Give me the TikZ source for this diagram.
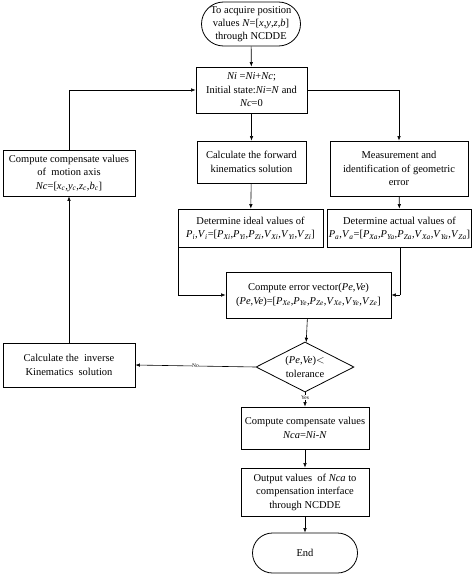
\documentclass[tikz,border=0pt]{standalone}
\usepackage{fontspec}
\setmainfont{Liberation Serif}
\usetikzlibrary{arrows.meta,shapes.geometric,shapes.misc}
\newcommand{\iv}[1]{\textit{#1}}
\newcommand{\sv}[2]{\textit{#1}\textsubscript{\textit{#2}}}
\begin{document}
\begin{tikzpicture}[x=1pt,y=-1pt,
  box/.style={draw,line width=0.8pt,align=center,font=\fontsize{10.5}{13.5}\selectfont,inner sep=1pt},
  term/.style={draw,line width=0.8pt,rounded rectangle,align=center,font=\fontsize{10.5}{13}\selectfont,inner sep=1pt},
  dec/.style={draw,line width=0.8pt,diamond,aspect=2.3,align=center,font=\fontsize{10.5}{14}\selectfont,inner sep=0pt},
  arr/.style={-{Latex[length=4.5pt,width=3.5pt]},line width=0.6pt},
  ln/.style={line width=0.6pt},
  lab/.style={font=\fontsize{5.5}{6}\selectfont,fill=white,inner sep=0.5pt}]
\useasboundingbox (0,0) rectangle (474,578);
\node[term,minimum width=101,minimum height=44] (start) at (251,24) {To acquire position\\values \iv{N}=[\iv{x},\iv{y},\iv{z},\iv{b}]\\through NCDDE};
\node[box,minimum width=111,minimum height=46] (ni) at (251.5,90) {\iv{Ni} =\iv{Ni}+\iv{Nc};\\Initial state:\iv{Ni}=\iv{N} and\\\iv{Nc}=0};
\node[box,minimum width=132,minimum height=46] (comp) at (69,173) {Compute compensate values\\of\ \ motion axis\\\iv{Nc}=[\sv{x}{c},\sv{y}{c},\sv{z}{c},\sv{b}{c}]};
\node[box,minimum width=109,minimum height=42] (fwd) at (251.5,162) {Calculate the forward\\kinematics solution};
\node[box,minimum width=138,minimum height=55] (meas) at (399,168.5) {Measurement and\\identification of geometric\\error};
\node[box,minimum width=145,minimum height=38] (ideal) at (250.5,228) {Determine ideal values of\\\sv{P}{i},\sv{V}{i}=[\sv{P}{Xi},\sv{P}{Yi},\sv{P}{Zi},\sv{V}{Xi},\sv{V}{Yi},\sv{V}{Zi}]};
\node[box,minimum width=139,minimum height=38] (act) at (399.5,228) {Determine actual values of\\\sv{P}{a},\sv{V}{a}=[\sv{P}{Xa},\sv{P}{Ya},\sv{P}{Za},\sv{V}{Xa},\sv{V}{Ya},\sv{V}{Za}]};
\node[box,minimum width=165,minimum height=46] (err) at (308.5,295) {Compute error vector(\iv{Pe},\iv{Ve})\\(\iv{Pe},\iv{Ve})=[\sv{P}{Xe},\sv{P}{Ye},\sv{P}{Ze},\sv{V}{Xe},\sv{V}{Ye},\sv{V}{Ze}]};
\node[dec,minimum width=98,minimum height=50] (dec) at (305,367) {(\iv{Pe},\iv{Ve})$<$\\tolerance};
\node[box,minimum width=132,minimum height=44] (inv) at (69,365) {Calculate the\ \ inverse\\Kinematics\ \ solution};
\node[box,minimum width=128,minimum height=42] (nca) at (305,428) {Compute compensate values\\\iv{Nca}=\iv{Ni}-\iv{N}};
\node[box,minimum width=128,minimum height=48] (out) at (305,492) {Output values\ \ of \iv{Nca} to\\compensation interface\\through NCDDE};
\node[term,minimum width=107,minimum height=40] (end) at (305,553) {End};
\coordinate (c3) at (178,295);
\coordinate (c4) at (400,295);
\draw[arr] (start) -- (ni);
\draw[arr] (ni) -- (fwd);
\draw[arr] (ni.east) -| (meas.north);
\draw[arr] (comp.north) |- (ni.west);
\draw[arr] (fwd) -- (ideal);
\draw[arr] (meas) -- (act);
\draw[ln] (ideal.south -| c3) -- (c3);
\draw[arr] (c3) -- (err.west);
\draw[ln] (act.south -| c4) -- (c4);
\draw[arr] (c4) -- (err.east);
\draw[arr] (err) -- (dec);
\draw[arr] (dec.west) -- node[lab]{No} (inv.east);
\draw[arr] (inv.north) -- (comp.south);
\draw[arr] (dec.south) -- node[lab,pos=0.35]{Yes} (nca.north);
\draw[arr] (nca) -- (out);
\draw[arr] (out) -- (end);
\end{tikzpicture}
\end{document}
